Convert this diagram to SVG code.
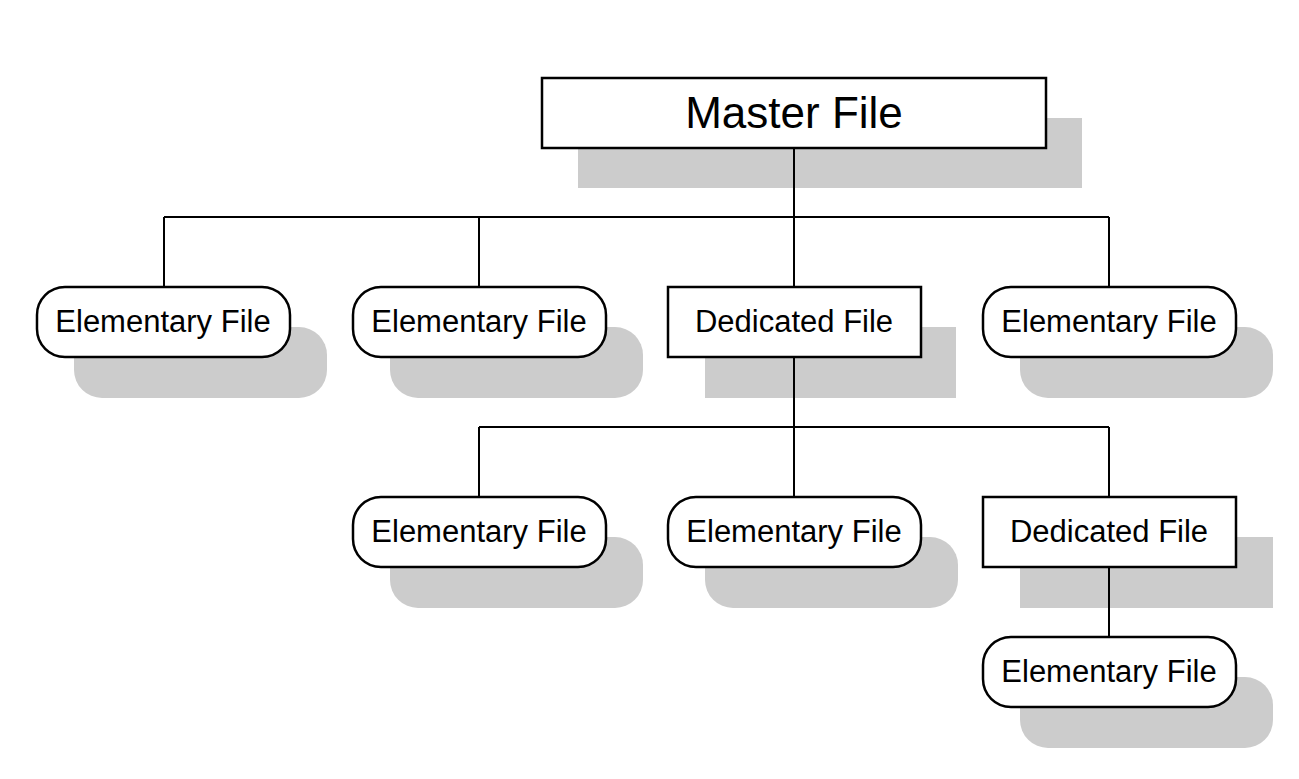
<svg xmlns="http://www.w3.org/2000/svg" width="1299" height="779" viewBox="0 0 1299 779">
<style>
.sh{fill:#cccccc}
.n{fill:#fff;stroke:#000;stroke-width:2.5}
.t{font-family:"Liberation Sans",Arial,sans-serif;font-size:31px;fill:#000;text-anchor:middle}
.c{stroke:#000;stroke-width:2;fill:none}
</style>
<rect width="1299" height="779" fill="#fff"/>
<g id="master"><rect class="sh" x="578" y="118" width="504" height="70"/><rect class="n" x="542" y="78" width="504" height="70"/><text class="t" x="794" y="128" style="font-size:44px">Master  File</text></g>
<g id="ef1"><rect class="sh" x="74" y="327" width="253" height="71" rx="28"/><rect class="n" x="37" y="287" width="253" height="70" rx="28"/><text class="t" x="163" y="332">Elementary  File</text></g>
<g id="ef2"><rect class="sh" x="390" y="327" width="253" height="71" rx="28"/><rect class="n" x="353" y="287" width="253" height="70" rx="28"/><text class="t" x="479" y="332">Elementary  File</text></g>
<g id="df1"><rect class="sh" x="705" y="327" width="251" height="71"/><rect class="n" x="668" y="287" width="253" height="70"/><text class="t" x="794" y="332">Dedicated File</text></g>
<g id="ef3"><rect class="sh" x="1020" y="327" width="253" height="71" rx="28"/><rect class="n" x="983" y="287" width="253" height="70" rx="28"/><text class="t" x="1109" y="332">Elementary  File</text></g>
<g id="ef4"><rect class="sh" x="390" y="537" width="253" height="71" rx="28"/><rect class="n" x="353" y="497" width="253" height="70" rx="28"/><text class="t" x="479" y="542">Elementary  File</text></g>
<g id="ef5"><rect class="sh" x="705" y="537" width="253" height="71" rx="28"/><rect class="n" x="668" y="497" width="253" height="70" rx="28"/><text class="t" x="794" y="542">Elementary  File</text></g>
<g id="df2"><rect class="sh" x="1020" y="537" width="253" height="71"/><rect class="n" x="983" y="497" width="253" height="70"/><text class="t" x="1109" y="542">Dedicated File</text></g>
<g id="ef6"><rect class="sh" x="1020" y="677" width="253" height="71" rx="28"/><rect class="n" x="983" y="637" width="253" height="70" rx="28"/><text class="t" x="1109" y="682">Elementary  File</text></g>
<g id="connectors">
<path class="c" d="M794 149V286M164 217H1109M164 217V286M479 217V286M1109 217V286M794 358V496M479 427H1109M479 427V496M1109 427V496M1109 568V636"/>
</g>
</svg>
